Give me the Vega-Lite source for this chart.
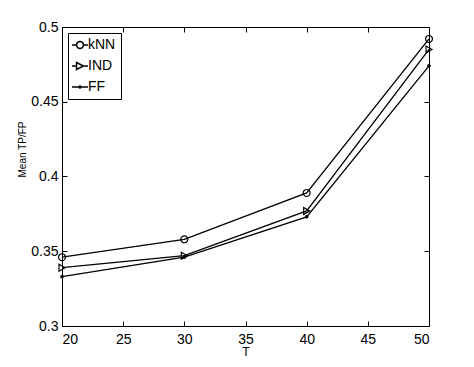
{
  "$schema": "https://vega.github.io/schema/vega-lite/v6.json",
  "autosize": "none",
  "width": 367,
  "height": 299,
  "padding": {"left": 62, "top": 27, "right": 45, "bottom": 41},
  "background": "white",
  "config": {
    "font": "Liberation Sans",
    "view": {"stroke": "black", "strokeWidth": 1},
    "axis": {"grid": false, "domain": false, "tickColor": "black", "tickSize": -5, "labelColor": "black", "labelFontSize": 14, "labelFont": "Liberation Sans", "titleFont": "Liberation Sans", "titleFontWeight": "normal", "titleColor": "black"}
  },
  "data": {"values": [
    {"T": 20, "v": 0.346, "s": "kNN"}, {"T": 30, "v": 0.358, "s": "kNN"}, {"T": 40, "v": 0.389, "s": "kNN"}, {"T": 50, "v": 0.492, "s": "kNN"},
    {"T": 20, "v": 0.339, "s": "IND"}, {"T": 30, "v": 0.347, "s": "IND"}, {"T": 40, "v": 0.377, "s": "IND"}, {"T": 50, "v": 0.485, "s": "IND"},
    {"T": 20, "v": 0.333, "s": "FF"}, {"T": 30, "v": 0.346, "s": "FF"}, {"T": 40, "v": 0.373, "s": "FF"}, {"T": 50, "v": 0.474, "s": "FF"}
  ]},
  "resolve": {"axis": {"x": "independent", "y": "independent"}, "scale": {"shape": "independent", "fill": "independent"}},
  "layer": [
    {
      "mark": {"type": "line", "color": "black", "strokeWidth": 1.3},
      "encoding": {
        "x": {"field": "T", "type": "quantitative", "scale": {"domain": [20, 50], "nice": false}, "axis": {"orient": "bottom", "values": [20, 25, 30, 35, 40, 45, 50], "labelPadding": 11, "title": "T", "titleFontSize": 12, "titlePadding": 0}},
        "y": {"field": "v", "type": "quantitative", "scale": {"domain": [0.3, 0.5], "nice": false, "zero": false}, "axis": {"orient": "left", "values": [0.3, 0.35, 0.4, 0.45, 0.5], "format": "~g", "labelPadding": 9, "title": "Mean TP/FP", "titleFontSize": 10, "titleX": -35, "titleY": 122}},
        "detail": {"field": "s"}
      }
    },
    {
      "transform": [{"filter": "datum.s !== 'FF'"}],
      "mark": {"type": "point", "stroke": "black", "strokeWidth": 1.2, "opacity": 1, "filled": false, "size": 48},
      "encoding": {
        "x": {"field": "T", "type": "quantitative", "axis": {"orient": "top", "values": [20, 25, 30, 35, 40, 45, 50], "labels": false, "title": null}},
        "y": {"field": "v", "type": "quantitative", "axis": {"orient": "right", "values": [0.3, 0.35, 0.4, 0.45, 0.5], "labels": false, "title": null}},
        "shape": {"field": "s", "type": "nominal", "scale": {"domain": ["kNN", "IND"], "range": ["circle", "triangle-right"]}, "legend": null}
      }
    },
    {
      "transform": [{"filter": "datum.s === 'FF'"}],
      "mark": {"type": "circle", "color": "black", "size": 13, "opacity": 1},
      "encoding": {
        "x": {"field": "T", "type": "quantitative", "axis": null},
        "y": {"field": "v", "type": "quantitative", "axis": null}
      }
    },
    {
      "mark": {"type": "point", "opacity": 0, "stroke": "black", "strokeWidth": 1.2, "size": 48},
      "encoding": {
        "x": {"field": "T", "type": "quantitative", "axis": null},
        "y": {"field": "v", "type": "quantitative", "axis": null},
        "shape": {"field": "s", "type": "nominal", "scale": {"domain": ["kNN", "IND", "FF"], "range": ["M-2.3,0L-1,0M1,0L2.3,0M1,0A1,1 0 1,1 -1,0A1,1 0 1,1 1,0", "M-2.3,0L-1,0M1,0L2.3,0M-1,-1L1,0L-1,1Z", "M-2.3,0L2.3,0M0.3,0A0.3,0.3 0 1,1 -0.3,0A0.3,0.3 0 1,1 0.3,0Z"]},
          "legend": {"title": null, "orient": "top-left", "offset": 6, "padding": 5, "strokeColor": "black", "fillColor": "white", "labelFontSize": 14, "labelColor": "black", "rowPadding": 7, "symbolSize": 48, "labelOffset": 1,
            "encode": {"symbols": {"update": {"stroke": {"value": "black"}, "strokeWidth": {"value": 1.2}, "opacity": {"value": 1}, "strokeOpacity": {"value": 1}}}}}},
        "fill": {"field": "s", "type": "nominal", "scale": {"domain": ["kNN", "IND", "FF"], "range": ["transparent", "transparent", "black"]}}
      }
    }
  ]
}
